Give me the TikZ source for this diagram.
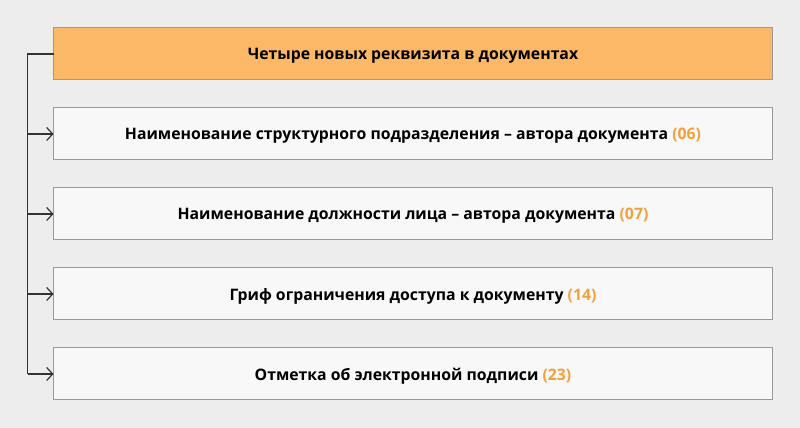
\documentclass[tikz,border=0pt]{standalone}
\usepackage{fontspec}
\setmainfont{Open Sans}
\usetikzlibrary{arrows.meta}
\usepackage{xcolor}
\definecolor{pagebg}{HTML}{EDEDED}
\definecolor{headfill}{HTML}{FBB866}
\definecolor{itemfill}{HTML}{F8F8F8}
\definecolor{boxline}{HTML}{9A9A9A}
\definecolor{wire}{HTML}{333333}
\definecolor{numorange}{HTML}{F2A03A}
\newcommand{\num}[1]{\textcolor{numorange}{(#1)}}

\begin{document}
\begin{tikzpicture}[x=1pt,y=1pt]
\tikzstyle{head} = [rectangle, draw=boxline, line width=1pt, fill=headfill, text depth=0pt,
minimum width=718pt, minimum height=52pt, font=\bfseries\fontsize{15.8}{18}\selectfont]
\tikzstyle{item} = [rectangle, draw=boxline, line width=1pt, fill=itemfill, text depth=0pt,
minimum width=718pt, minimum height=52pt, font=\bfseries\fontsize{15.8}{18}\selectfont]
\tikzstyle{line} = [draw=wire, line width=1.2pt];
\fill[pagebg] (0,0) rectangle (800,428);
\matrix [row sep=27pt] at (413,214)
{
% row 1
\node [head] (title) {Четыре новых реквизита в документах}; \\
% row 2
\node [item] (unit) {Наименование структурного подразделения – автора документа \num{06}}; \\
% row 3
\node [item] (post) {Наименование должности лица – автора документа \num{07}}; \\
% row 4
\node [item] (stamp) {Гриф ограничения доступа к документу \num{14}}; \\
% row 5
\node [item] (esign) {Отметка об электронной подписи \num{23}}; \\
};
\coordinate (rail) at ([xshift=-26pt]title.west);
\tikzstyle{every path}=[line]
\path (title.west) -- (rail) -- (rail |- esign.west);
\path[-{Straight Barb[length=6pt,width=13pt]}] (rail |- unit.west) -- (unit.west);
\path[-{Straight Barb[length=6pt,width=13pt]}] (rail |- post.west) -- (post.west);
\path[-{Straight Barb[length=6pt,width=13pt]}] (rail |- stamp.west) -- (stamp.west);
\path[-{Straight Barb[length=6pt,width=13pt]}] (rail |- esign.west) -- (esign.west);
\end{tikzpicture}
\end{document}
